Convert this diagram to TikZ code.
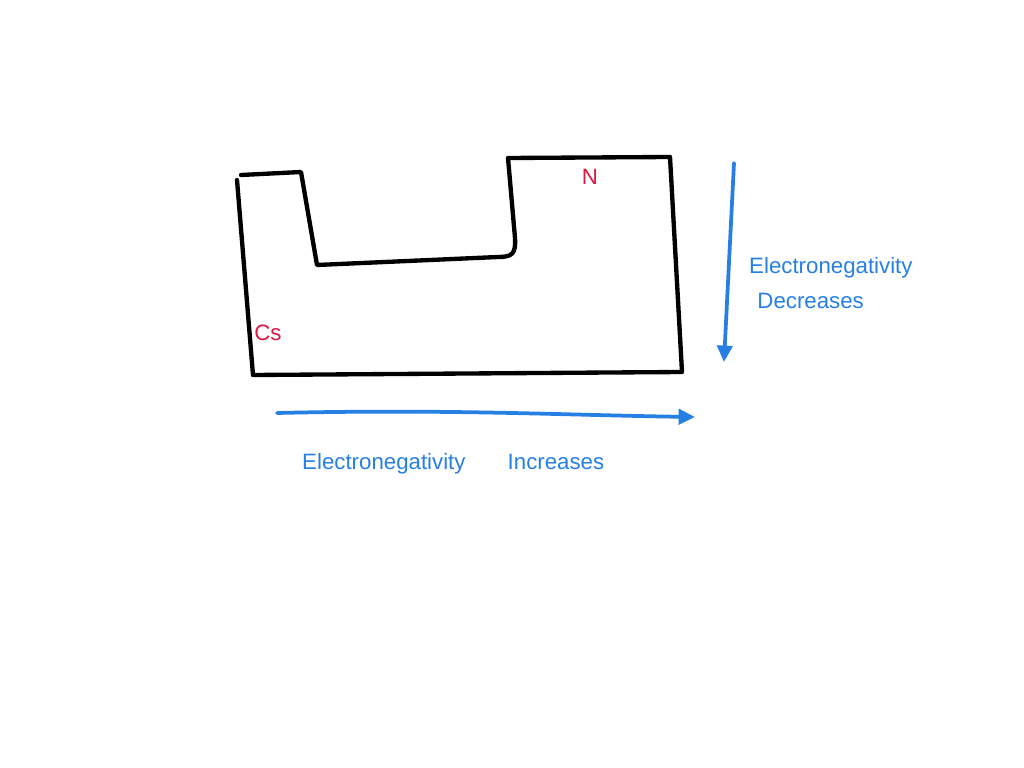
\documentclass[tikz,border=0pt]{standalone}
\usepackage{fontspec}
\setmainfont{Liberation Sans}
\usetikzlibrary{arrows.meta}
\definecolor{inkblue}{RGB}{38,128,228}
\definecolor{inkred}{RGB}{222,24,64}
\begin{document}
\begin{tikzpicture}[x=0.03cm,y=-0.03cm,
  outline/.style={line width=3.7pt,black,line join=round,line cap=round},
  bluearrow/.style={line width=3.2pt,inkblue,line cap=round,-{Triangle[length=14pt,width=13pt]}},
  bluetext/.style={text=inkblue,font=\fontsize{19}{30}\selectfont,align=left,inner sep=0pt},
  elem/.style={text=inkred,font=\fontsize{19}{23}\selectfont,inner sep=0pt}]
\useasboundingbox (0,0) rectangle (1024,768);
% table outline
\draw[outline] (237,180) -- (253,375) -- (682,372) -- (670,157) -- (508,158)
  -- (515,238) .. controls (516,254) and (512,257) .. (498,257)
  -- (317,265) -- (301,172) -- (241,175);
% element labels
\node[elem] (N) at (590,177) {N};
\node[elem] (Cs) at (268,333) {Cs};
% arrows
\coordinate (vstart) at (734,163);
\coordinate (vend) at (724,362);
\draw[bluearrow] (vstart) -- (vend);
\coordinate (hstart) at (277,413);
\coordinate (hend) at (695,417);
\draw[bluearrow] (hstart) .. controls (450,409) and (560,415) .. (hend);
% labels
\node[bluetext,anchor=north west] (dec) at (749,257) {Electronegativity\\\hspace*{7pt}Decreases};
\node[bluetext,anchor=west] (inc) at (302,464) {Electronegativity\hspace{36pt}Increases};
\end{tikzpicture}
\end{document}
